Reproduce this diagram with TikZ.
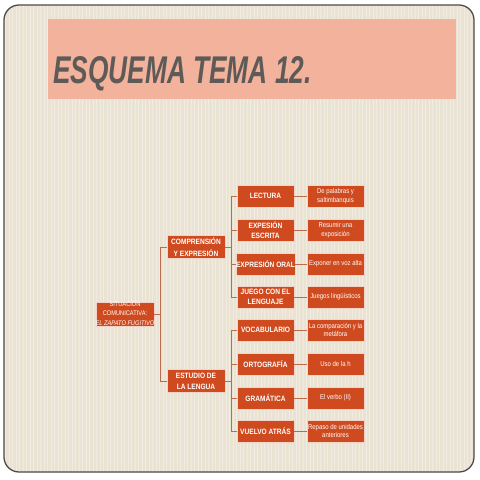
\documentclass[tikz,border=0pt]{standalone}
\usepackage{fontspec}
\setmainfont{Liberation Sans}
\newfontfamily\boxfont[FakeStretch=0.85]{Liberation Sans}
\newfontfamily\titlefont[FakeStretch=0.68]{Liberation Sans}
\usetikzlibrary{calc,positioning}
\definecolor{paper}{HTML}{EAE3D3}
\definecolor{paperline}{HTML}{F1ECE1}
\definecolor{band}{HTML}{F3B29B}
\definecolor{boxred}{HTML}{CF4A1E}
\definecolor{linkc}{HTML}{BB6C4C}
\definecolor{titlec}{HTML}{5E5A58}
\definecolor{frame}{HTML}{4B4A47}

\begin{document}
\begin{tikzpicture}[x=0.5mm,y=-0.5mm,
	box/.style={fill=boxred,draw=white!75!boxred,line width=0.5pt,text=white,inner sep=0pt,align=center},
	lvone/.style={box,minimum width=29mm,minimum height=11.5mm,font=\boxfont\bfseries\fontsize{11}{16}\selectfont},
	lvtwo/.style={box,minimum width=28.5mm,minimum height=11mm,font=\boxfont\bfseries\fontsize{11}{14.5}\selectfont},
	lvthree/.style={box,minimum width=28.5mm,minimum height=11mm,font=\boxfont\fontsize{10}{12}\selectfont},
	link/.style={draw=linkc,line width=1.1pt}]
		\useasboundingbox (0,0) rectangle (480,480);
		\fill[white] (0,0) rectangle (480,480);
		\fill[paper,rounded corners=7.5mm] (4,5) rectangle (474,472);
		\begin{scope}
			\clip[rounded corners=7.5mm] (4,5) rectangle (474,472);
			\foreach \i in {5.5,9,...,474} \draw[paperline,line width=0.9pt] (\i,5) -- (\i,472);
		\end{scope}
		\draw[frame,line width=1.8pt,rounded corners=7.5mm] (4,5) rectangle (474,472);
		
		\fill[band] (48,19) rectangle (456,99);
		\node[anchor=base west,inner sep=0pt,text=titlec,font=\titlefont\bfseries\itshape\fontsize{55}{55}\selectfont] (title) at (53,83) {ESQUEMA TEMA 12.};
		
		\node[box,minimum width=29mm,minimum height=12mm] (root) at (125,314) {};
		\node[align=center,text=white,inner sep=0pt,font=\boxfont\fontsize{9.5}{13}\selectfont] (root-text) at (125,313) {SITUACIÓN\\COMUNICATIVA:\\\textit{EL ZAPATO FUGITIVO}};
		
		\node[lvone] (comp) at (196,247) {COMPRENSIÓN\\Y EXPRESIÓN};
		\node[lvone] (estudio) at (196,381) {ESTUDIO DE\\LA LENGUA};
		\draw[link] (root.east) -- +(6,0) |- (comp.west);
		\draw[link] (root.east) -- +(6,0) |- (estudio.west);
		
		\foreach \name/\up/\y/\a/\b in {
			lectura/comp/196/LECTURA/{De palabras y\\saltimbanquis},
			escrita/comp/230/{EXPESIÓN\\ESCRITA}/{Resumir una\\exposición},
			oral/comp/264/EXPRESIÓN ORAL/Exponer en voz alta,
			juego/comp/297/{JUEGO CON EL\\LENGUAJE}/Juegos lingüísticos,
			vocab/estudio/330/VOCABULARIO/{La comparación y la\\metáfora},
			orto/estudio/364/ORTOGRAFÍA/Uso de la h,
			grama/estudio/398/GRAMÁTICA/El verbo (II),
			vuelvo/estudio/431/VUELVO ATRÁS/{Repaso de unidades\\anteriores}}{
			\node[lvtwo] (\name) at (265.5,\y) {\a};
			\node[lvthree] (\name-r) at (335.5,\y) {\b};
			\draw[link] (\name.east) -- (\name-r.west);
			\draw[link] (\up.east) -- +(6,0) |- (\name.west);
		}
\end{tikzpicture}
\end{document}
